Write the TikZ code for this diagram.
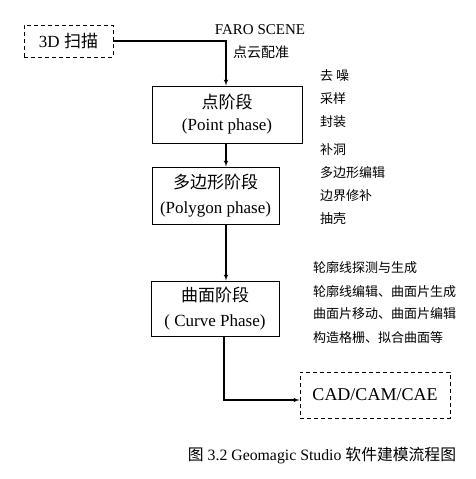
\documentclass[tikz,border=0pt]{standalone}
\usepackage{fontspec}
\setmainfont{Liberation Serif}
\newfontfamily\cjk{Noto Sans CJK SC}
\newcommand{\zh}[1]{{\cjk #1}}
\usepackage{tikz}
\usetikzlibrary{arrows}
\tikzstyle{block} = [rectangle, draw, line width=0.7pt, align=center, inner sep=0pt,
font=\fontsize{17}{22}\selectfont]
\tikzstyle{dashblock} = [block, dash pattern=on 4pt off 3pt]
\tikzstyle{note} = [anchor=west, inner sep=0pt, font=\cjk\fontsize{13}{15}\selectfont]
\tikzstyle{line} = [draw, -latex', line width=1.1pt]

\begin{document}
\begin{tikzpicture}[x=1pt, y=-1pt]
    \useasboundingbox (0,0) rectangle (476,479);
    % Nodes
    \node [dashblock, minimum width=89, minimum height=32] (scan) at (68.5,41) {3D \zh{扫描}};
    \node [block, minimum width=150, minimum height=57] (point) at (227,114.5) {\zh{点阶段}\\(Point phase)};
    \node [block, minimum width=127, minimum height=57] (polygon) at (215.5,195.5) {\zh{多边形阶段}\\[3pt](Polygon phase)};
    \node [block, minimum width=128, minimum height=55] (curve) at (215,308.5) {\zh{曲面阶段}\\[3pt]( Curve Phase)};
    \node [dashblock, minimum width=150, minimum height=46, font=\fontsize{18}{22}\selectfont] (cad) at (375,395) {CAD/CAM/CAE};

    % texts
    \node [anchor=center, inner sep=0pt, font=\fontsize{15}{18}\selectfont] (faro) at (260,30) {FARO SCENE};
    \node [note, anchor=center, font=\cjk\fontsize{14}{16}\selectfont] (regist) at (261,52) {点云配准};
    \node [note] (denoise) at (320,76) {去\ 噪};
    \node [note] (sample) at (320,99) {采样};
    \node [note] (wrap) at (320,122) {封装};
    \node [note] (fill) at (320,150) {补洞};
    \node [note] (polyedit) at (320,173) {多边形编辑};
    \node [note] (border) at (320,196) {边界修补};
    \node [note] (shell) at (320,219) {抽壳};
    \node [note] (detect) at (313,268) {轮廓线探测与生成};
    \node [note] (patch) at (313,292) {轮廓线编辑、曲面片生成};
    \node [note] (move) at (313,314) {曲面片移动、曲面片编辑};
    \node [note] (grid) at (313,338) {构造格栅、拟合曲面等};
    \node [anchor=center, inner sep=0pt, font=\fontsize{15.8}{18}\selectfont] (caption) at (322,456) {\zh{图} 3.2 Geomagic Studio \zh{软件建模流程图}};

    % arrows
    \draw [line] (scan.east) -| ([xshift=-1pt]point.north);
    \draw [line] ([xshift=-1pt]point.south) -- ([xshift=-1pt]point.south |- polygon.north);
    \draw [line] ([xshift=-1pt]point.south |- polygon.south) -- ([xshift=-1pt]point.south |- curve.north);
    \draw [line] ([xshift=9pt]curve.south) |- ([yshift=-5pt]cad.west);
\end{tikzpicture}
\end{document}
